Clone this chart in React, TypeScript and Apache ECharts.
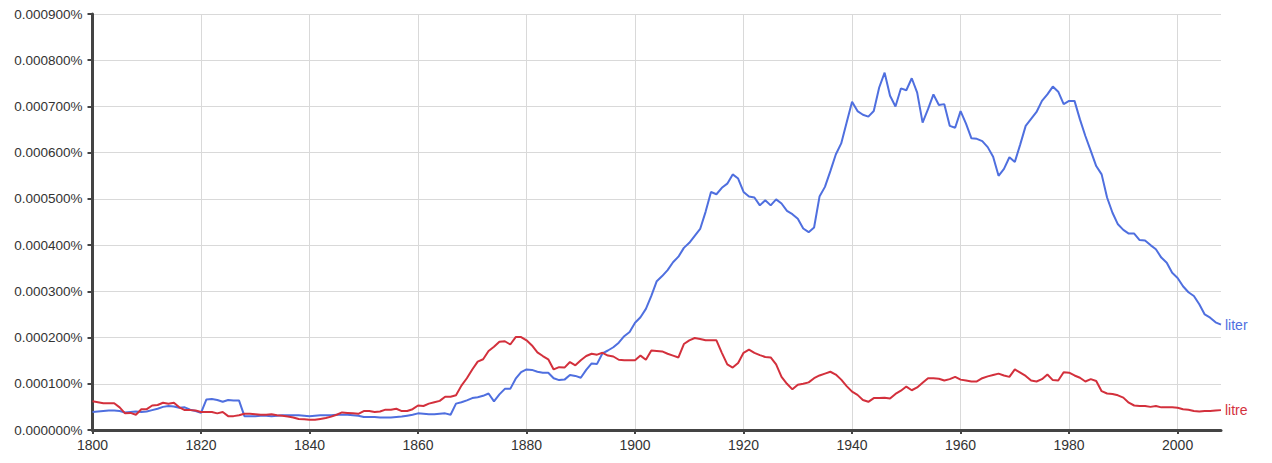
import React, { useEffect, useRef } from "react";
import * as echarts from "echarts";

// Years on the x axis (categories)
const startYear = 1800;
const endYear = 2008;
const years: string[] = [];
for (let y = startYear; y <= endYear; y++) years.push(String(y));

// Values, in units of 0.0001 %
const UNIT = 0.0001;

const literValues = [
  0.39, 0.40, 0.41, 0.42, 0.42, 0.41, 0.38, 0.39, 0.40, 0.39,
  0.40, 0.43, 0.46, 0.50, 0.52, 0.51, 0.48, 0.49, 0.44, 0.41,
  0.37, 0.66, 0.67, 0.65, 0.61, 0.65, 0.64, 0.64, 0.30, 0.30,
  0.30, 0.31, 0.31, 0.30, 0.31, 0.32, 0.32, 0.32, 0.32, 0.31,
  0.30, 0.31, 0.32, 0.32, 0.32, 0.33, 0.33, 0.33, 0.32, 0.31,
  0.28, 0.28, 0.28, 0.27, 0.27, 0.27, 0.28, 0.29, 0.31, 0.33,
  0.36, 0.35, 0.34, 0.34, 0.35, 0.36, 0.33, 0.57, 0.60, 0.64,
  0.69, 0.71, 0.74, 0.79, 0.62, 0.77, 0.89, 0.89, 1.11, 1.25,
  1.31, 1.30, 1.26, 1.24, 1.24, 1.12, 1.08, 1.09, 1.19, 1.17,
  1.13, 1.30, 1.44, 1.43, 1.66, 1.72, 1.79, 1.89, 2.03, 2.12,
  2.32, 2.44, 2.62, 2.90, 3.22, 3.33, 3.46, 3.63, 3.75, 3.94,
  4.05, 4.20, 4.35, 4.72, 5.15, 5.10, 5.24, 5.33, 5.53, 5.44,
  5.15, 5.05, 5.03, 4.86, 4.97, 4.86, 4.99, 4.90, 4.74, 4.67,
  4.57, 4.36, 4.28, 4.38, 5.05, 5.26, 5.60, 5.96, 6.20, 6.65,
  7.10, 6.90, 6.82, 6.78, 6.90, 7.41, 7.73, 7.23, 7.00, 7.39,
  7.35, 7.61, 7.30, 6.65, 6.94, 7.26, 7.03, 7.05, 6.58, 6.54,
  6.90, 6.63, 6.31, 6.30, 6.25, 6.12, 5.91, 5.50, 5.65, 5.90,
  5.80, 6.18, 6.58, 6.73, 6.88, 7.12, 7.26, 7.43, 7.32, 7.05,
  7.12, 7.12, 6.72, 6.36, 6.04, 5.71, 5.53, 5.03, 4.70, 4.45,
  4.33, 4.25, 4.25, 4.11, 4.10, 4.00, 3.91, 3.73, 3.62, 3.40,
  3.29, 3.11, 2.98, 2.90, 2.72, 2.50, 2.43, 2.33, 2.28,
];

const litreValues = [
  0.62, 0.60, 0.58, 0.58, 0.58, 0.49, 0.36, 0.37, 0.33, 0.45,
  0.45, 0.53, 0.54, 0.59, 0.57, 0.59, 0.49, 0.43, 0.43, 0.42,
  0.39, 0.39, 0.39, 0.36, 0.39, 0.30, 0.30, 0.32, 0.35, 0.35,
  0.34, 0.33, 0.33, 0.34, 0.32, 0.31, 0.29, 0.27, 0.24, 0.23,
  0.22, 0.22, 0.24, 0.26, 0.29, 0.33, 0.38, 0.37, 0.36, 0.35,
  0.41, 0.41, 0.39, 0.40, 0.44, 0.44, 0.46, 0.41, 0.41, 0.45,
  0.53, 0.52, 0.57, 0.60, 0.63, 0.72, 0.72, 0.75, 0.96, 1.12,
  1.31, 1.48, 1.53, 1.71, 1.80, 1.91, 1.92, 1.85, 2.01, 2.01,
  1.94, 1.83, 1.68, 1.60, 1.53, 1.31, 1.36, 1.35, 1.47, 1.40,
  1.51, 1.60, 1.65, 1.63, 1.67, 1.61, 1.59, 1.52, 1.51, 1.51,
  1.51, 1.61, 1.52, 1.72, 1.71, 1.70, 1.65, 1.61, 1.57, 1.86,
  1.94, 1.99, 1.97, 1.94, 1.94, 1.94, 1.67, 1.42, 1.35, 1.45,
  1.67, 1.74, 1.67, 1.62, 1.58, 1.57, 1.42, 1.15, 1.00, 0.88,
  0.98, 1.00, 1.03, 1.12, 1.18, 1.22, 1.26, 1.20, 1.09, 0.95,
  0.83, 0.76, 0.65, 0.61, 0.69, 0.69, 0.70, 0.68, 0.78, 0.85,
  0.94, 0.86, 0.92, 1.02, 1.12, 1.12, 1.11, 1.07, 1.10, 1.15,
  1.09, 1.07, 1.05, 1.05, 1.12, 1.16, 1.19, 1.22, 1.18, 1.15,
  1.31, 1.24, 1.17, 1.07, 1.05, 1.10, 1.20, 1.08, 1.07, 1.25,
  1.24, 1.18, 1.13, 1.05, 1.10, 1.06, 0.84, 0.79, 0.78, 0.75,
  0.70, 0.59, 0.53, 0.52, 0.52, 0.50, 0.52, 0.49, 0.49, 0.49,
  0.48, 0.45, 0.44, 0.41, 0.40, 0.41, 0.41, 0.42, 0.43,
];

const seriesNames = ["liter", "litre"];
const seriesColors = ["#4f6fdf", "#d3303c"];
const yMax = 0.0009;
const yInterval = 0.0001;
const yearStep = 20;

export default function App() {
  const ref = useRef<HTMLDivElement>(null);

  useEffect(() => {
    if (!ref.current) return;
    const chart = echarts.init(ref.current, null, { renderer: "svg" });
    const font = "'Liberation Sans', Arial, Helvetica, sans-serif";
    const every = (i: number) => i % yearStep === 0;
    const makeSeries = (idx: number, vals: number[]) => ({
      name: seriesNames[idx],
      type: "line",
      data: vals.map((v) => +(v * UNIT).toFixed(8)),
      symbol: "none",
      lineStyle: { color: seriesColors[idx], width: 2 },
      itemStyle: { color: seriesColors[idx] },
      endLabel: {
        show: true,
        formatter: "{a}",
        color: seriesColors[idx],
        fontSize: 14,
        fontFamily: font,
        distance: 4,
      },
      z: 3,
    });
    chart.setOption({
      animation: false,
      backgroundColor: "#ffffff",
      grid: { left: 92.5, right: 51, top: 14, bottom: 33, containLabel: false },
      xAxis: {
        type: "category",
        data: years,
        boundaryGap: false,
        axisLine: { show: true, lineStyle: { color: "#444", width: 3 } },
        axisTick: {
          show: true,
          interval: (i: number) => every(i),
          length: 4,
          lineStyle: { color: "#444", width: 2 },
        },
        axisLabel: {
          interval: (i: number) => every(i),
          color: "#333",
          fontSize: 14,
          fontFamily: font,
          margin: 8,
        },
        splitLine: {
          show: true,
          interval: (i: number) => every(i) && i !== 0,
          lineStyle: { color: "#d9d9d9", width: 1 },
        },
      },
      yAxis: {
        type: "value",
        min: 0,
        max: yMax,
        interval: yInterval,
        axisLine: { show: true, lineStyle: { color: "#444", width: 3 } },
        axisTick: { show: true, length: 5, lineStyle: { color: "#444", width: 2 } },
        axisLabel: {
          color: "#333",
          fontSize: 13.5,
          fontFamily: font,
          margin: 10,
          formatter: (v: number) => v.toFixed(6) + "%",
        },
        splitLine: { show: true, lineStyle: { color: "#d9d9d9", width: 1 } },
      },
      series: [makeSeries(0, literValues), makeSeries(1, litreValues)],
    });
    return () => chart.dispose();
  }, []);

  return (
    <div
      ref={ref}
      style={{ position: "fixed", left: 0, top: 0, width: 1272, height: 463 }}
    />
  );
}
